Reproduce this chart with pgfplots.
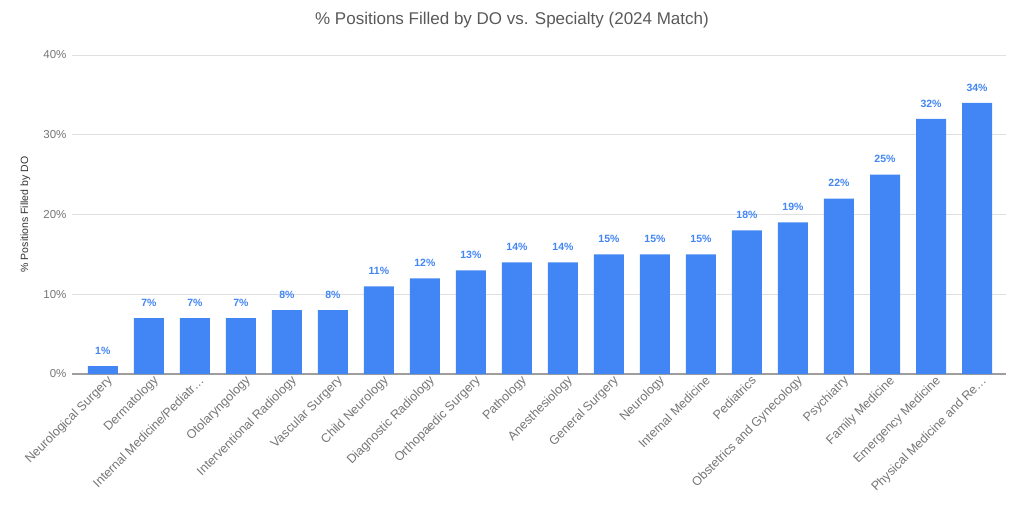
\documentclass[border=0pt]{standalone}
\usepackage{fontspec}
\setmainfont{Liberation Sans}
\usepackage{pgfplots}
\pgfplotsset{compat=1.18}

\definecolor{barblue}{HTML}{4285F4}
\definecolor{ticktext}{HTML}{757575}
\definecolor{gridgray}{HTML}{E0E0E0}
\definecolor{axisgray}{HTML}{9E9E9E}
\definecolor{titlegray}{HTML}{595959}

\pgfplotstableread{
x val
0 1
1 7
2 7
3 7
4 8
5 8
6 11
7 12
8 13
9 14
10 14
11 15
12 15
13 15
14 18
15 19
16 22
17 25
18 32
19 34
}\dotable

\begin{document}
\begin{tikzpicture}[x=1pt,y=1pt]
\path[use as bounding box] (0,0) rectangle (1024,504);
\node[font=\fontsize{17}{20}\selectfont, text=titlegray] at (512,484) {\% Positions Filled by DO vs. Specialty (2024 Match)};
\begin{axis}[
    at={(72pt,130pt)}, anchor=south west,
    scale only axis,
    width=934pt, height=319pt,
    ybar, bar width=30pt,
    xmin=-0.67, xmax=19.63,
    ymin=0, ymax=40,
    ytick={0,10,20,30,40},
    yticklabel={\pgfmathprintnumber{\tick}\%},
    /pgf/number format/assume math mode=true,
    xtick={0,1,2,3,4,5,6,7,8,9,10,11,12,13,14,15,16,17,18,19},
    xticklabels={Neurological Surgery, Dermatology, {Internal Medicine/Pediatr\ldots}, Otolaryngology, Interventional Radiology, Vascular Surgery, Child Neurology, Diagnostic Radiology, Orthopaedic Surgery, Pathology, Anesthesiology, General Surgery, Neurology, Internal Medicine, Pediatrics, Obstetrics and Gynecology, Psychiatry, Family Medicine, Emergency Medicine, {Physical Medicine and Re\ldots}},
    xticklabel style={rotate=45, anchor=north east, font=\fontsize{12.5}{14}\selectfont, text=ticktext, inner sep=1pt, xshift=3pt, yshift=-2pt},
    yticklabel style={font=\fontsize{11.5}{13}\selectfont, text=ticktext, xshift=-2pt},
    major tick length=0pt,
    axis x line*=bottom,
    axis y line*=left,
    y axis line style={draw=none},
    x axis line style={draw=axisgray, line width=1.2pt, -},
    ymajorgrids,
    grid style={draw=gridgray, line width=0.8pt},
    ylabel={\% Positions Filled by DO},
    ylabel style={at={(axis description cs:-0.05,0.5)}, anchor=center, font=\fontsize{10.5}{12}\selectfont, text=black!80},
    nodes near coords={\pgfmathprintnumber{\pgfplotspointmeta}\%},
    nodes near coords style={font=\bfseries\fontsize{10.5}{12}\selectfont, text=barblue, yshift=8pt},
    every node near coord/.append style={/pgf/number format/assume math mode=true},
]
\addplot[fill=barblue, draw=none] table[x=x, y=val] {\dotable};
\end{axis}
\end{tikzpicture}
\end{document}
